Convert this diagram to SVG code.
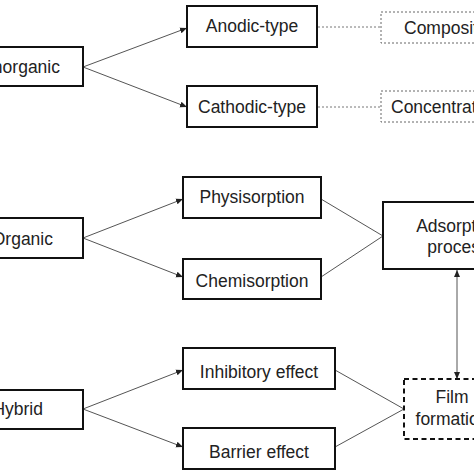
<svg xmlns="http://www.w3.org/2000/svg" width="474" height="474" viewBox="0 0 474 474">
<style>
.box{fill:#fff;stroke:#111;stroke-width:2}
.dot{fill:#fff;stroke:#666;stroke-width:1;stroke-dasharray:2 2}
.dash{fill:#fff;stroke:#111;stroke-width:2;stroke-dasharray:5 3.5}
.t{font-family:"Liberation Sans",Arial,sans-serif;font-size:17.5px;fill:#222}
.ln{stroke:#555;stroke-width:1;fill:none}
.dl{stroke:#777;stroke-width:1;stroke-dasharray:2 2;fill:none}
</style>
<defs>
<marker id="ah" markerUnits="userSpaceOnUse" markerWidth="8" markerHeight="8" refX="7" refY="4" orient="auto-start-reverse">
<path d="M0,1 L7,4 L0,7 Z" fill="#222"/>
</marker>
</defs>
<rect width="474" height="474" fill="#fff"/>
<g id="connectors">
<line class="ln" x1="83" y1="67" x2="187" y2="28" marker-end="url(#ah)"/>
<line class="ln" x1="83" y1="67" x2="187" y2="107" marker-end="url(#ah)"/>
<line class="dl" x1="318" y1="27" x2="381" y2="27"/>
<line class="dl" x1="318" y1="107" x2="381" y2="107"/>
<line class="ln" x1="83" y1="238" x2="183" y2="199" marker-end="url(#ah)"/>
<line class="ln" x1="83" y1="238" x2="183" y2="277" marker-end="url(#ah)"/>
<line class="ln" x1="321" y1="199" x2="383" y2="236"/>
<line class="ln" x1="321" y1="277" x2="383" y2="236"/>
<line class="ln" x1="83" y1="409" x2="183" y2="370" marker-end="url(#ah)"/>
<line class="ln" x1="83" y1="409" x2="183" y2="447" marker-end="url(#ah)"/>
<line class="ln" x1="335" y1="370" x2="404" y2="409"/>
<line class="ln" x1="335" y1="447" x2="404" y2="409"/>
<line class="ln" x1="457" y1="270" x2="457" y2="379" marker-start="url(#ah)" marker-end="url(#ah)"/>
</g>
<g id="inorganic"><rect class="box" x="-20" y="47" width="103" height="39"/><text class="t" x="60" y="73" text-anchor="end">Inorganic</text></g>
<g id="anodic"><rect class="box" x="187" y="6" width="130" height="41"/><text class="t" x="252" y="32" text-anchor="middle">Anodic-type</text></g>
<g id="cathodic"><rect class="box" x="187" y="86" width="130" height="41"/><text class="t" x="252" y="113" text-anchor="middle">Cathodic-type</text></g>
<g id="composition"><rect class="dot" x="381" y="12" width="143" height="31"/><text class="t" x="404" y="34">Composition</text></g>
<g id="concentration"><rect class="dot" x="381" y="91" width="129" height="31"/><text class="t" x="391" y="113">Concentration</text></g>
<g id="organic"><rect class="box" x="-20" y="218" width="103" height="40"/><text class="t" x="53" y="245" text-anchor="end">Organic</text></g>
<g id="physisorption"><rect class="box" x="183" y="177" width="138" height="41"/><text class="t" x="252" y="203" text-anchor="middle">Physisorption</text></g>
<g id="chemisorption"><rect class="box" x="183" y="259" width="138" height="40"/><text class="t" x="252" y="287" text-anchor="middle">Chemisorption</text></g>
<g id="adsorption"><rect class="box" x="383" y="202" width="150" height="67"/><text class="t" x="458" y="232" text-anchor="middle">Adsorption</text><text class="t" x="458" y="253" text-anchor="middle">process</text></g>
<g id="hybrid"><rect class="box" x="-20" y="390" width="103" height="39"/><text class="t" x="43" y="415" text-anchor="end">Hybrid</text></g>
<g id="inhibitory"><rect class="box" x="183" y="348" width="152" height="41"/><text class="t" x="259" y="378" text-anchor="middle">Inhibitory effect</text></g>
<g id="barrier"><rect class="box" x="183" y="428" width="152" height="41"/><text class="t" x="259" y="458" text-anchor="middle">Barrier effect</text></g>
<g id="film"><rect class="dash" x="404" y="379" width="96" height="60"/><text class="t" x="452" y="403" text-anchor="middle">Film</text><text class="t" x="452" y="425" text-anchor="middle">formation</text></g>
</svg>
